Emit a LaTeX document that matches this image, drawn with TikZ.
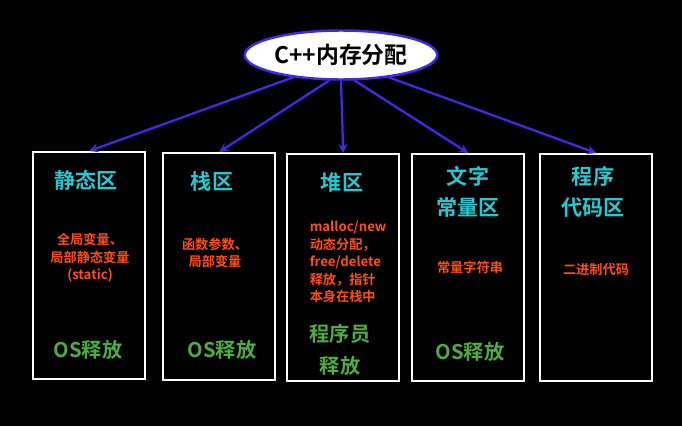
\documentclass[tikz,border=0pt]{standalone}
\usepackage{fontspec}
\setmainfont{Noto Sans CJK SC}
\newfontfamily\cjkb{Noto Sans CJK SC Bold}
\usetikzlibrary{shapes.geometric}
\definecolor{arrowblue}{RGB}{68,40,230}
\definecolor{titlecyan}{RGB}{40,200,210}
\definecolor{notered}{RGB}{255,80,20}
\definecolor{osgreen}{RGB}{80,170,70}
\tikzset{
  area/.style={draw=white, line width=1.4pt, fill=black, minimum width=2.24cm, minimum height=4.54cm, anchor=north west},
  title/.style={text=titlecyan, font=\cjkb\fontsize{12}{18}\selectfont, align=center},
  note/.style={text=notered, font=\cjkb\fontsize{7.5}{10}\selectfont, align=center},
  free/.style={text=osgreen, font=\cjkb\fontsize{11.5}{18}\selectfont, align=center},
  link/.style={draw=arrowblue, line width=1.3pt, -stealth}
}
\begin{document}
\begin{tikzpicture}[x=0.02cm, y=-0.02cm]
  \fill[black] (0,0) rectangle (682,426);
  \node[ellipse, draw=arrowblue, line width=1.4pt, fill=white, inner sep=0pt, minimum width=3.85cm, minimum height=0.98cm, font=\cjkb\fontsize{13}{15}\selectfont] (top) at (341,55) {C++内存分配};
  % the five areas
  \node[area] (A1) at (32,151) {};
  \node[area] (A2) at (162,152) {};
  \node[area] (A3) at (286,153) {};
  \node[area] (A4) at (411,153) {};
  \node[area] (A5) at (539,153) {};
  \node[title] (T1) at (86,180) {静态区};
  \node[title] (T2) at (212,181) {栈区};
  \node[title] (T3) at (342,183) {堆区};
  \node[title] (T4) at (468,192) {文字\\常量区};
  \node[title] (T5) at (593,192) {程序\\代码区};
  \node[note] (N1) at (90,258) {全局变量、\\局部静态变量\\(static)};
  \node[note] (N2) at (215,253) {函数参数、\\局部变量};
  \node[note, align=left] (N3) at (348,262) {malloc/new\\动态分配，\\free/delete\\释放，指针\\本身在栈中};
  \node[note] (N4) at (470,267) {常量字符串};
  \node[note] (N5) at (596,270) {二进制代码};
  \node[free] (F1) at (88,350) {OS释放};
  \node[free] (F2) at (222,350) {OS释放};
  \node[free] (F3) at (340,350) {程序员\\释放};
  \node[free] (F4) at (470,352) {OS释放};
  % arrows
  \draw[link] (top.205) -- (A1.north);
  \draw[link] (top.245) -- (A2.north);
  \draw[link] (top.south) -- (A3.north);
  \draw[link] (top.298) -- (A4.north);
  \draw[link] (top.335) -- (A5.north);
\end{tikzpicture}
\end{document}
